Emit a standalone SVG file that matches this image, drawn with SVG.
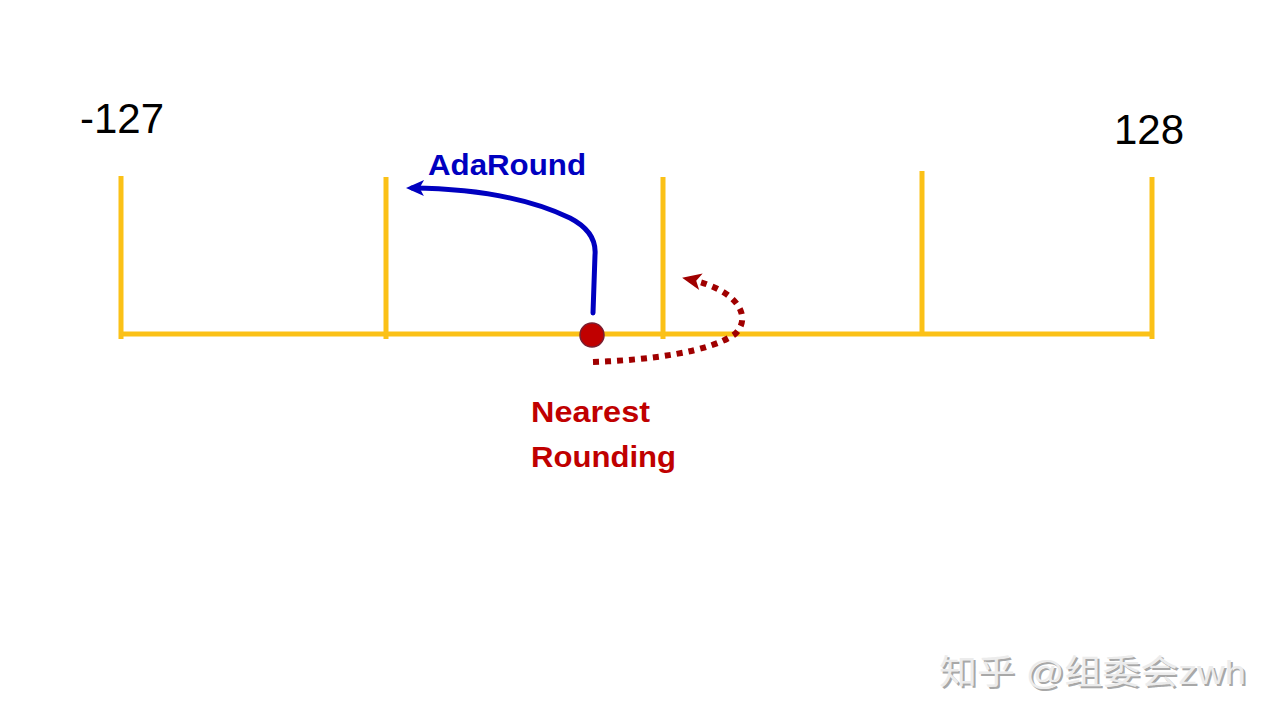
<svg xmlns="http://www.w3.org/2000/svg" width="1280" height="720" viewBox="0 0 1280 720">
<style>
.tick{stroke:#FBC117;stroke-width:5;fill:none}
.num{font-family:"Liberation Sans",Arial,sans-serif;font-size:42px;fill:#000}
.lbl{font-family:"Liberation Sans",Arial,sans-serif;font-weight:bold;font-size:29px}
.wm{font-family:"Liberation Sans","Noto Sans CJK SC",sans-serif;font-size:34px}
</style>
<defs>
<marker id="ab" markerWidth="5" markerHeight="5" refX="2.4" refY="1.6" orient="auto" markerUnits="strokeWidth" overflow="visible"><path d="M3.6,1.6 L0,0 L0.9,1.6 L0,3.2 Z" fill="#0000C0"/></marker>
<marker id="ar" markerWidth="5" markerHeight="5" refX="2.2" refY="1.4" orient="auto" markerUnits="strokeWidth" overflow="visible"><path d="M3.2,1.4 L0,0 L0.8,1.4 L0,2.8 Z" fill="#A00000"/></marker>
</defs>
<rect width="1280" height="720" fill="#fff"/>
<g id="axis">
<line class="tick" x1="119" y1="334" x2="1152" y2="334"/>
<line class="tick" x1="121" y1="176" x2="121" y2="339"/>
<line class="tick" x1="386" y1="177" x2="386" y2="339"/>
<line class="tick" x1="663" y1="177" x2="663" y2="339"/>
<line class="tick" x1="922" y1="171" x2="922" y2="333"/>
<line class="tick" x1="1152" y1="177" x2="1152" y2="339"/>
</g>
<g id="labels">
<text class="num" x="80" y="133">-127</text>
<text class="num" x="1114" y="144">128</text>
</g>
<g id="connectors">
<path d="M593,313 L595,255 Q597,232 570,218 Q510,189 412,188" fill="none" stroke="#0000C0" stroke-width="5" stroke-linecap="round" marker-end="url(#ab)"/>
<path d="M593,362 C650,360 710,352 735,334 C752,318 740,290 688,279" fill="none" stroke="#A00000" stroke-width="6" stroke-dasharray="6,6" marker-end="url(#ar)"/>
</g>
<g id="point">
<circle cx="592" cy="335" r="12" fill="#C00000" stroke="#7A1E30" stroke-width="1.5"/>
</g>
<g id="adaround">
<text class="lbl" x="428" y="175" fill="#0000C0" textLength="158" lengthAdjust="spacingAndGlyphs">AdaRound</text>
</g>
<g id="nearest">
<text class="lbl" x="531" y="422" fill="#C00000" textLength="119" lengthAdjust="spacingAndGlyphs">Nearest</text>
<text class="lbl" x="531" y="467" fill="#C00000" textLength="145" lengthAdjust="spacingAndGlyphs">Rounding</text>
</g>
<g id="watermark">
<text class="wm" x="941" y="686" fill="#a8a8a8" textLength="307" lengthAdjust="spacingAndGlyphs">知乎 @组委会zwh</text>
<text class="wm" x="939" y="684" fill="#ececec" textLength="307" lengthAdjust="spacingAndGlyphs">知乎 @组委会zwh</text>
</g>
</svg>
